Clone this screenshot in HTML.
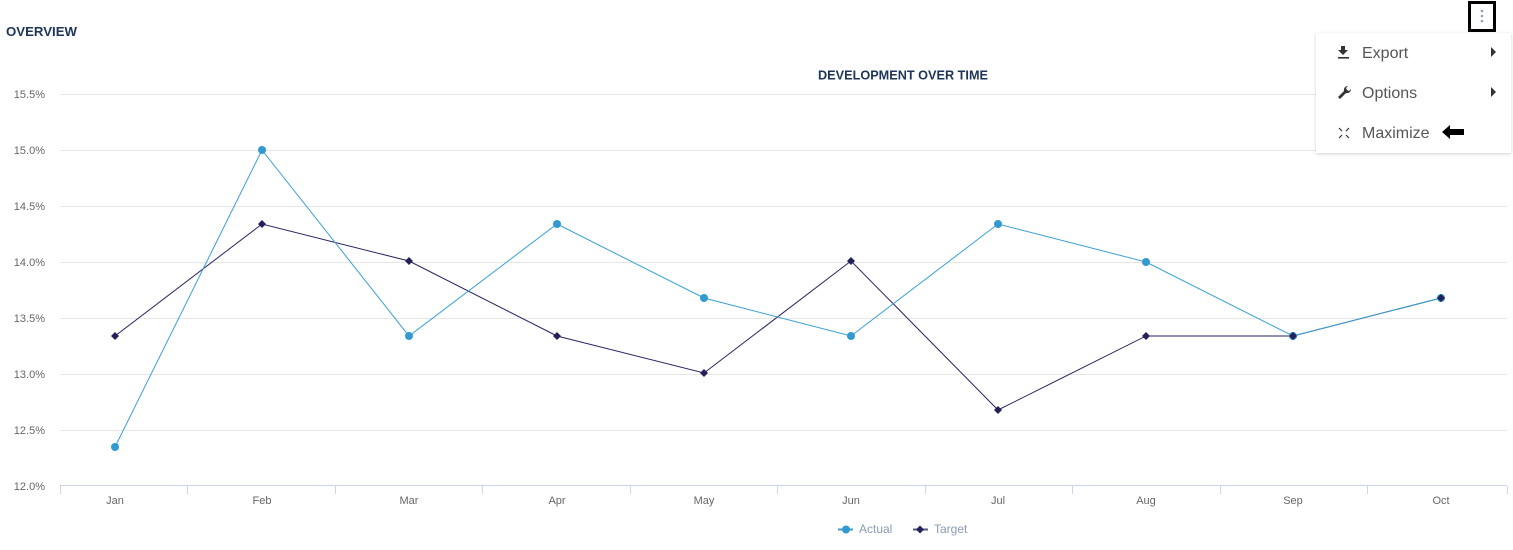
<!DOCTYPE html>
<html><head><meta charset="utf-8"><style>
html,body{margin:0;padding:0;background:#fff;width:1513px;height:550px;overflow:hidden;font-family:"Liberation Sans",sans-serif;}
svg{display:block}
</style></head><body>
<svg width="1513" height="550" viewBox="0 0 1513 550" xmlns="http://www.w3.org/2000/svg" font-family="Liberation Sans, sans-serif">
<text x="6" y="36" font-size="13" font-weight="bold" fill="#1d3557" textLength="71" lengthAdjust="spacingAndGlyphs">OVERVIEW</text>
<text x="818" y="79.5" font-size="13" font-weight="bold" fill="#1d3557" textLength="170" lengthAdjust="spacingAndGlyphs">DEVELOPMENT OVER TIME</text>
<!-- grid -->
<g stroke="#e6e6e6" stroke-width="1">
<line x1="60" y1="94.5" x2="1507" y2="94.5"/>
<line x1="60" y1="150.5" x2="1507" y2="150.5"/>
<line x1="60" y1="206.5" x2="1507" y2="206.5"/>
<line x1="60" y1="262.5" x2="1507" y2="262.5"/>
<line x1="60" y1="318.5" x2="1507" y2="318.5"/>
<line x1="60" y1="374.5" x2="1507" y2="374.5"/>
<line x1="60" y1="430.5" x2="1507" y2="430.5"/>
</g>
<g font-size="11" fill="#666" text-anchor="end">
<text x="45" y="98">15.5%</text>
<text x="45" y="154">15.0%</text>
<text x="45" y="210">14.5%</text>
<text x="45" y="266">14.0%</text>
<text x="45" y="322">13.5%</text>
<text x="45" y="378">13.0%</text>
<text x="45" y="434">12.5%</text>
<text x="45" y="490">12.0%</text>
</g>
<!-- x axis -->
<line x1="60" y1="485.5" x2="1507" y2="485.5" stroke="#ccd6eb" stroke-width="1"/>
<g stroke="#ccd6eb" stroke-width="1">
<line x1="60.5" y1="486" x2="60.5" y2="494"/>
<line x1="187.5" y1="486" x2="187.5" y2="494"/>
<line x1="335.5" y1="486" x2="335.5" y2="494"/>
<line x1="482.5" y1="486" x2="482.5" y2="494"/>
<line x1="630.5" y1="486" x2="630.5" y2="494"/>
<line x1="777.5" y1="486" x2="777.5" y2="494"/>
<line x1="925.5" y1="486" x2="925.5" y2="494"/>
<line x1="1072.5" y1="486" x2="1072.5" y2="494"/>
<line x1="1220.5" y1="486" x2="1220.5" y2="494"/>
<line x1="1367.5" y1="486" x2="1367.5" y2="494"/>
<line x1="1507.5" y1="486" x2="1507.5" y2="494"/>
</g>
<g font-size="11" fill="#666" text-anchor="middle">
<text x="115" y="504">Jan</text>
<text x="262" y="504">Feb</text>
<text x="409" y="504">Mar</text>
<text x="557" y="504">Apr</text>
<text x="704" y="504">May</text>
<text x="851" y="504">Jun</text>
<text x="998" y="504">Jul</text>
<text x="1146" y="504">Aug</text>
<text x="1293" y="504">Sep</text>
<text x="1441" y="504">Oct</text>
</g>
<!-- Target -->
<polyline fill="none" stroke="#2a2260" stroke-width="1" points="115,336 262,224 409,261 557,336 704,373 851,261 998,410 1146,336 1293,336 1441,298"/>
<!-- Actual -->
<polyline fill="none" stroke="#3a9fd6" stroke-width="1" points="115,447 262,150 409,336 557,224 704,298 851,336 998,224 1146,262 1293,336 1441,298"/>
<g fill="#3399d1">
<circle cx="115" cy="447" r="4"/><circle cx="262" cy="150" r="4"/><circle cx="409" cy="336" r="4"/><circle cx="557" cy="224" r="4"/><circle cx="704" cy="298" r="4"/><circle cx="851" cy="336" r="4"/><circle cx="998" cy="224" r="4"/><circle cx="1146" cy="262" r="4"/><circle cx="1293" cy="336" r="4"/><circle cx="1441" cy="298" r="4"/>
</g>
<g fill="#24205a">
<path d="M115 332 L119 336 L115 340 L111 336Z"/>
<path d="M262 220 L266 224 L262 228 L258 224Z"/>
<path d="M409 257 L413 261 L409 265 L405 261Z"/>
<path d="M557 332 L561 336 L557 340 L553 336Z"/>
<path d="M704 369 L708 373 L704 377 L700 373Z"/>
<path d="M851 257 L855 261 L851 265 L847 261Z"/>
<path d="M998 406 L1002 410 L998 414 L994 410Z"/>
<path d="M1146 332 L1150 336 L1146 340 L1142 336Z"/>
<path d="M1293 332 L1297 336 L1293 340 L1289 336Z"/>
<path d="M1441 294 L1445 298 L1441 302 L1437 298Z"/>
</g>
<!-- legend -->
<line x1="838" y1="529.5" x2="853" y2="529.5" stroke="#3a9fd6" stroke-width="2"/>
<circle cx="846" cy="529.5" r="4" fill="#3399d1"/>
<text x="859" y="533" font-size="12" fill="#8a9bb0">Actual</text>
<line x1="913" y1="529.5" x2="928" y2="529.5" stroke="#5a5483" stroke-width="2"/>
<path d="M920 525.5 L924 529.5 L920 533.5 L916 529.5Z" fill="#24205a"/>
<text x="934" y="533" font-size="12" fill="#8a9bb0">Target</text>
<!-- menu button -->
<rect x="1469.5" y="2.5" width="25" height="28" fill="#fff" stroke="#000" stroke-width="3"/>
<g fill="#8aa2bf"><circle cx="1482" cy="11" r="1.3"/><circle cx="1482" cy="16" r="1.3"/><circle cx="1482" cy="21" r="1.3"/></g>
<!-- dropdown -->
<defs><filter id="sh" x="-10%" y="-10%" width="120%" height="130%"><feDropShadow dx="0" dy="1" stdDeviation="1.5" flood-color="#000" flood-opacity="0.18"/></filter></defs>
<rect x="1316" y="33" width="195" height="120" fill="#fff" filter="url(#sh)"/>
<g font-size="16" fill="#555">
<text x="1362" y="58">Export</text>
<text x="1362" y="98">Options</text>
<text x="1362" y="138">Maximize</text>
</g>
<!-- export icon -->
<path d="M1341 46 h4 v4 h3 l-5 5 l-5 -5 h3z" fill="#333"/>
<rect x="1338" y="57" width="11" height="1.6" fill="#333"/>
<!-- wrench icon -->
<path d="M1338 97 l6 -6 a4 4 0 0 1 4 -5 l-2 2 l1 2 l2 1 l2 -2 a4 4 0 0 1 -5 4 l-6 6 z" fill="#333"/>
<!-- maximize icon -->
<g stroke="#333" stroke-width="1.2" fill="none">
<path d="M1339 128 l3 3 M1349 128 l-3 3 M1339 138 l3 -3 M1349 138 l-3 -3"/>
</g>
<!-- arrows -->
<path d="M1491 47 L1496 52 L1491 57Z" fill="#333"/>
<path d="M1491 87 L1496 92 L1491 97Z" fill="#333"/>
<!-- pointer arrow -->
<path d="M1442 132 L1450 125 L1450 129 L1464 129 L1464 135 L1450 135 L1450 139Z" fill="#000"/>
</svg>
</body></html>
